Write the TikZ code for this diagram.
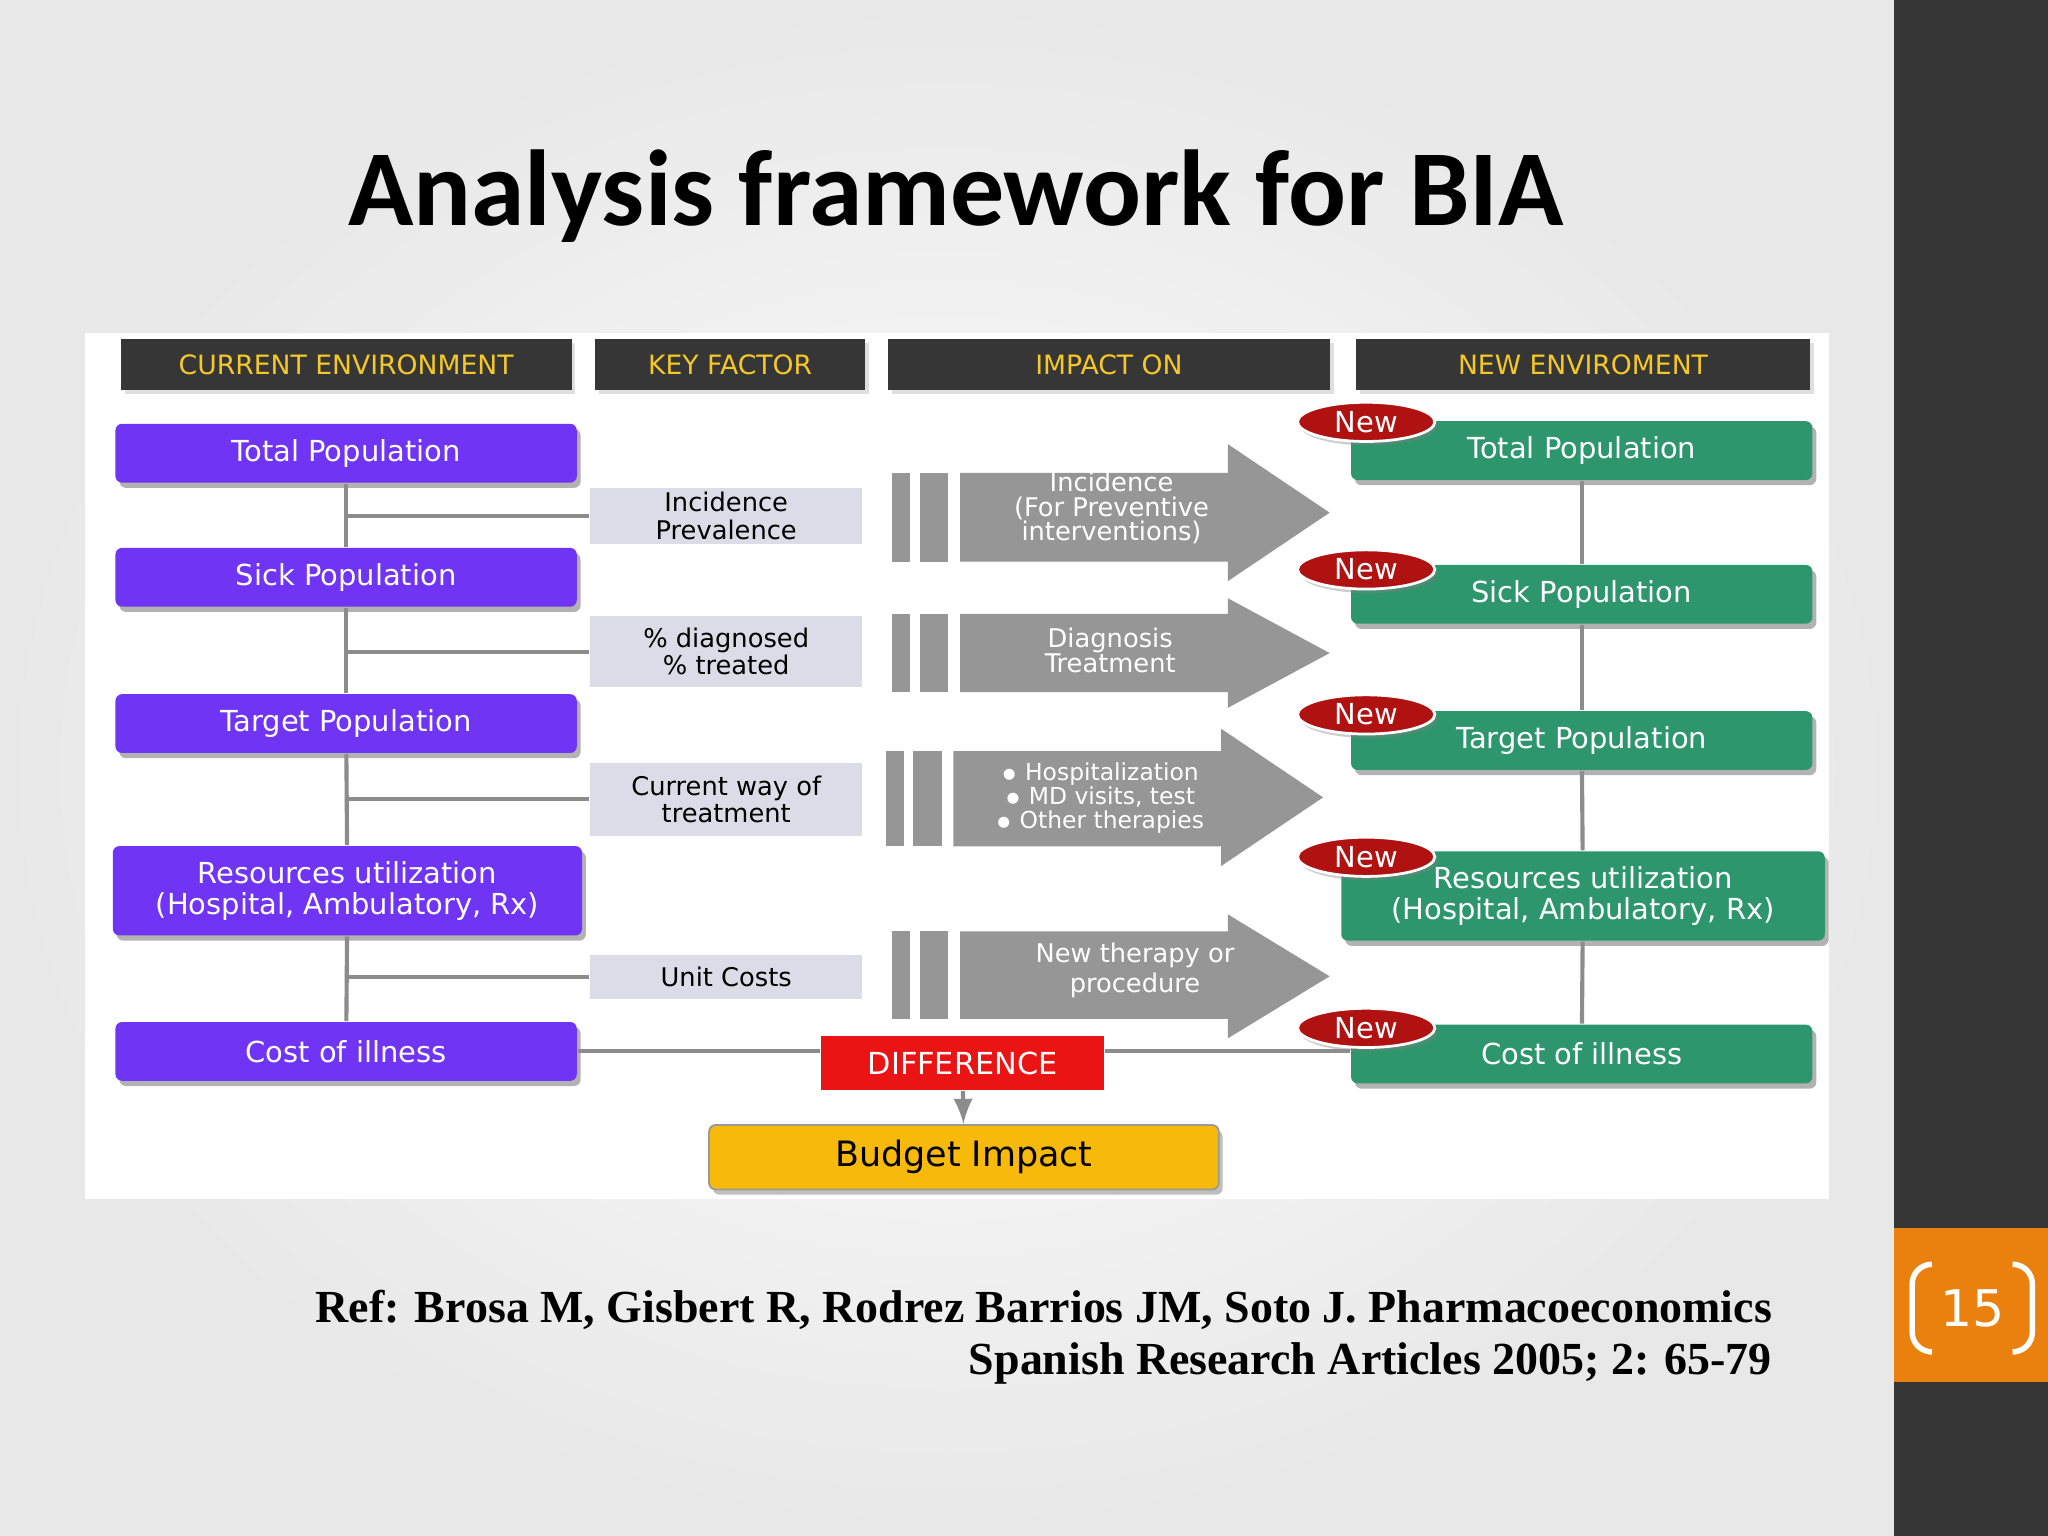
\documentclass[tikz,border=0pt]{standalone}
\usepackage{fontspec}
\setmainfont{DejaVu Sans}
\newfontfamily\titlefont{Carlito}
\newfontfamily\reffont{Liberation Serif}
\usetikzlibrary{shadows,shapes.geometric}
\definecolor{barcolor}{RGB}{54, 54, 54}
\definecolor{headtext}{RGB}{245, 200, 40}
\definecolor{purplebox}{RGB}{112, 52, 245}
\definecolor{greenbox}{RGB}{46, 150, 108}
\definecolor{keybox}{RGB}{220, 220, 232}
\definecolor{arrowgray}{RGB}{150, 150, 150}
\definecolor{newred}{RGB}{176, 18, 18}
\definecolor{diffred}{RGB}{235, 20, 20}
\definecolor{budgetyellow}{RGB}{248, 186, 10}
\definecolor{pageorange}{RGB}{234, 128, 14}

\begin{document}
\begin{tikzpicture}[x=0.01cm, y=-0.01cm,
            header/.style = {
                fill=barcolor,
                text=headtext,
                font=\fontsize{5.8}{6}\selectfont,
                minimum height=0.33cm,
                drop shadow={opacity=0.25, shadow xshift=0.03cm, shadow yshift=-0.03cm},
                },
            current/.style = {
                fill=purplebox,
                text=white,
                rounded corners=0.5mm,
                font=\fontsize{6.3}{6.7}\selectfont,
                minimum width=3.53cm,
                minimum height=0.45cm,
                align=center,
                drop shadow={opacity=0.6, shadow xshift=0.03cm, shadow yshift=-0.04cm},
                },
            newenv/.style = {
                current,
                fill=greenbox,
                },
            factor/.style = {
                fill=keybox,
                text=black,
                font=\fontsize{5.6}{5.9}\selectfont,
                minimum width=2.08cm,
                inner sep=1pt,
                align=center,
                },
            newtag/.style = {
                ellipse,
                fill=newred,
                draw=white,
                line width=0.6pt,
                text=white,
                font=\fontsize{6.3}{6}\selectfont,
                minimum width=1.05cm,
                minimum height=0.3cm,
                inner sep=0pt,
                drop shadow={opacity=0.4, shadow xshift=0.02cm, shadow yshift=-0.03cm},
                },
            impact/.style = {
                text=white,
                font=\fontsize{5.6}{5.4}\selectfont,
                align=center,
                },
            link/.style = {draw=black!45, line width=0.9pt}]

    % slide
    \shade[inner color=white, outer color=black!9] (0,0) rectangle (1450,1176);
    \fill[barcolor] (1450,0) rectangle (1568,1176);
    \fill[pageorange] (1450,940) rectangle (1568,1058);
    \draw[white, line width=1.2pt, rounded corners=1.5mm] (1477,968) -- (1464,968) -- (1464,1035) -- (1477,1035);
    \draw[white, line width=1.2pt, rounded corners=1.5mm] (1543,968) -- (1556,968) -- (1556,1035) -- (1543,1035);
    \node[text=white, font=\fontsize{11}{11}\selectfont] (page) at (1510,1002) {15};
    \node[font=\titlefont\bfseries\fontsize{23.5}{24}\selectfont] (title) at (732,150) {Analysis framework for BIA};

    \fill[white] (65,255) rectangle (1400,918);

    % headers
    \node[header, minimum width=3.45cm] (h1) at (265,279) {CURRENT ENVIRONMENT};
    \node[header, minimum width=2.07cm] (h2) at (559,279) {KEY FACTOR};
    \node[header, minimum width=3.38cm] (h3) at (849,279) {IMPACT ON};
    \node[header, minimum width=3.48cm] (h4) at (1212,279) {NEW ENVIROMENT};

    % current environment
    \node[current] (tp) at (265,347) {Total Population};
    \node[current] (sp) at (265,442) {Sick Population};
    \node[current] (tg) at (265,554) {Target Population};
    \node[current, minimum width=3.59cm, minimum height=0.65cm] (ru) at (266,682) {Resources utilization\\(Hospital, Ambulatory, Rx)};
    \node[current] (ci) at (265,805) {Cost of illness};

    % key factors
    \node[factor, minimum height=0.36cm] (kf1) at (556,395) {Incidence\\Prevalence};
    \node[factor, minimum height=0.54cm] (kf2) at (556,499) {\% diagnosed\\\% treated};
    \node[factor, minimum height=0.56cm] (kf3) at (556,612) {Current way of\\treatment};
    \node[factor, minimum height=0.33cm] (kf4) at (556,748) {Unit Costs};

    \draw[link] (tp) -- (sp);
    \draw[link] (sp) -- (tg);
    \draw[link] (tg) -- (ru);
    \draw[link] (ru) -- (ci);
    \foreach \k in {kf1,kf2,kf3,kf4}
        \draw[link] (\k.west) -- (\k.west -| tp.south);

    % impact arrows
    \foreach \dx/\top/\bot/\htop/\hbot in {0/362/430/340/445, 0/470/530/458/542, -5/575/648/558/663, 0/713/780/700/795} {
        \fill[arrowgray] (683+\dx,\top) rectangle (697+\dx,\bot);
        \fill[arrowgray] (704+\dx,\top) rectangle (726+\dx,\bot);
        \fill[arrowgray] (735+\dx,\top) -- (940+\dx,\top) -- (940+\dx,\htop) -- (1018+\dx,{(\htop+\hbot)/2})
            -- (940+\dx,\hbot) -- (940+\dx,\bot) -- (735+\dx,\bot) -- cycle;
    }
    \node[impact] (im1) at (851,389) {Incidence\\(For Preventive\\interventions)};
    \node[impact] (im2) at (850,498) {Diagnosis\\Treatment};
    \node[impact, font=\fontsize{5.1}{5.3}\selectfont] (im3) at (842,611) {$\bullet$ Hospitalization\\$\bullet$ MD visits, test\\$\bullet$ Other therapies};
    \node[impact] (im4) at (869,743) {New therapy or\\procedure};

    % new environment
    \node[newenv] (ntp) at (1211,345) {Total Population};
    \node[newenv] (nsp) at (1211,455) {Sick Population};
    \node[newenv] (ntg) at (1211,567) {Target Population};
    \node[newenv, minimum width=3.7cm, minimum height=0.63cm] (nru) at (1212,686) {Resources utilization\\(Hospital, Ambulatory, Rx)};
    \node[newenv] (nci) at (1211,807) {Cost of illness};
    \draw[link] (ntp) -- (nsp);
    \draw[link] (nsp) -- (ntg);
    \draw[link] (ntg) -- (nru);
    \draw[link] (nru) -- (nci);
    \foreach \n/\y in {n1/323, n2/436, n3/547, n4/656, n5/787}
        \node[newtag] (\n) at (1046,\y) {New};

    % difference
    \node[fill=diffred, text=white, font=\fontsize{6.6}{7}\selectfont, minimum width=2.17cm, minimum height=0.4cm] (diff) at (737,814) {DIFFERENCE};
    \draw[link] (ci.east) -- (diff.west |- ci.east);
    \draw[link] (diff.east |- ci.east) -- (nci.west |- ci.east);
    \node[fill=budgetyellow, draw=black!40, rounded corners=0.5mm, font=\fontsize{7.6}{8}\selectfont, minimum width=3.9cm, minimum height=0.42cm,
          drop shadow={opacity=0.5, shadow xshift=0.03cm, shadow yshift=-0.04cm}] (bi) at (738,886) {Budget Impact};
    \draw[link, -latex] (diff) -- (bi);

    % reference
    \node[anchor=north east, align=right, font=\reffont\bfseries\fontsize{10}{11.5}\selectfont] (ref) at (1369,975)
        {Ref: Brosa M, Gisbert R, Rodrez Barrios JM, Soto J. Pharmacoeconomics\\Spanish Research Articles 2005; 2: 65-79};
\end{tikzpicture}
\end{document}
